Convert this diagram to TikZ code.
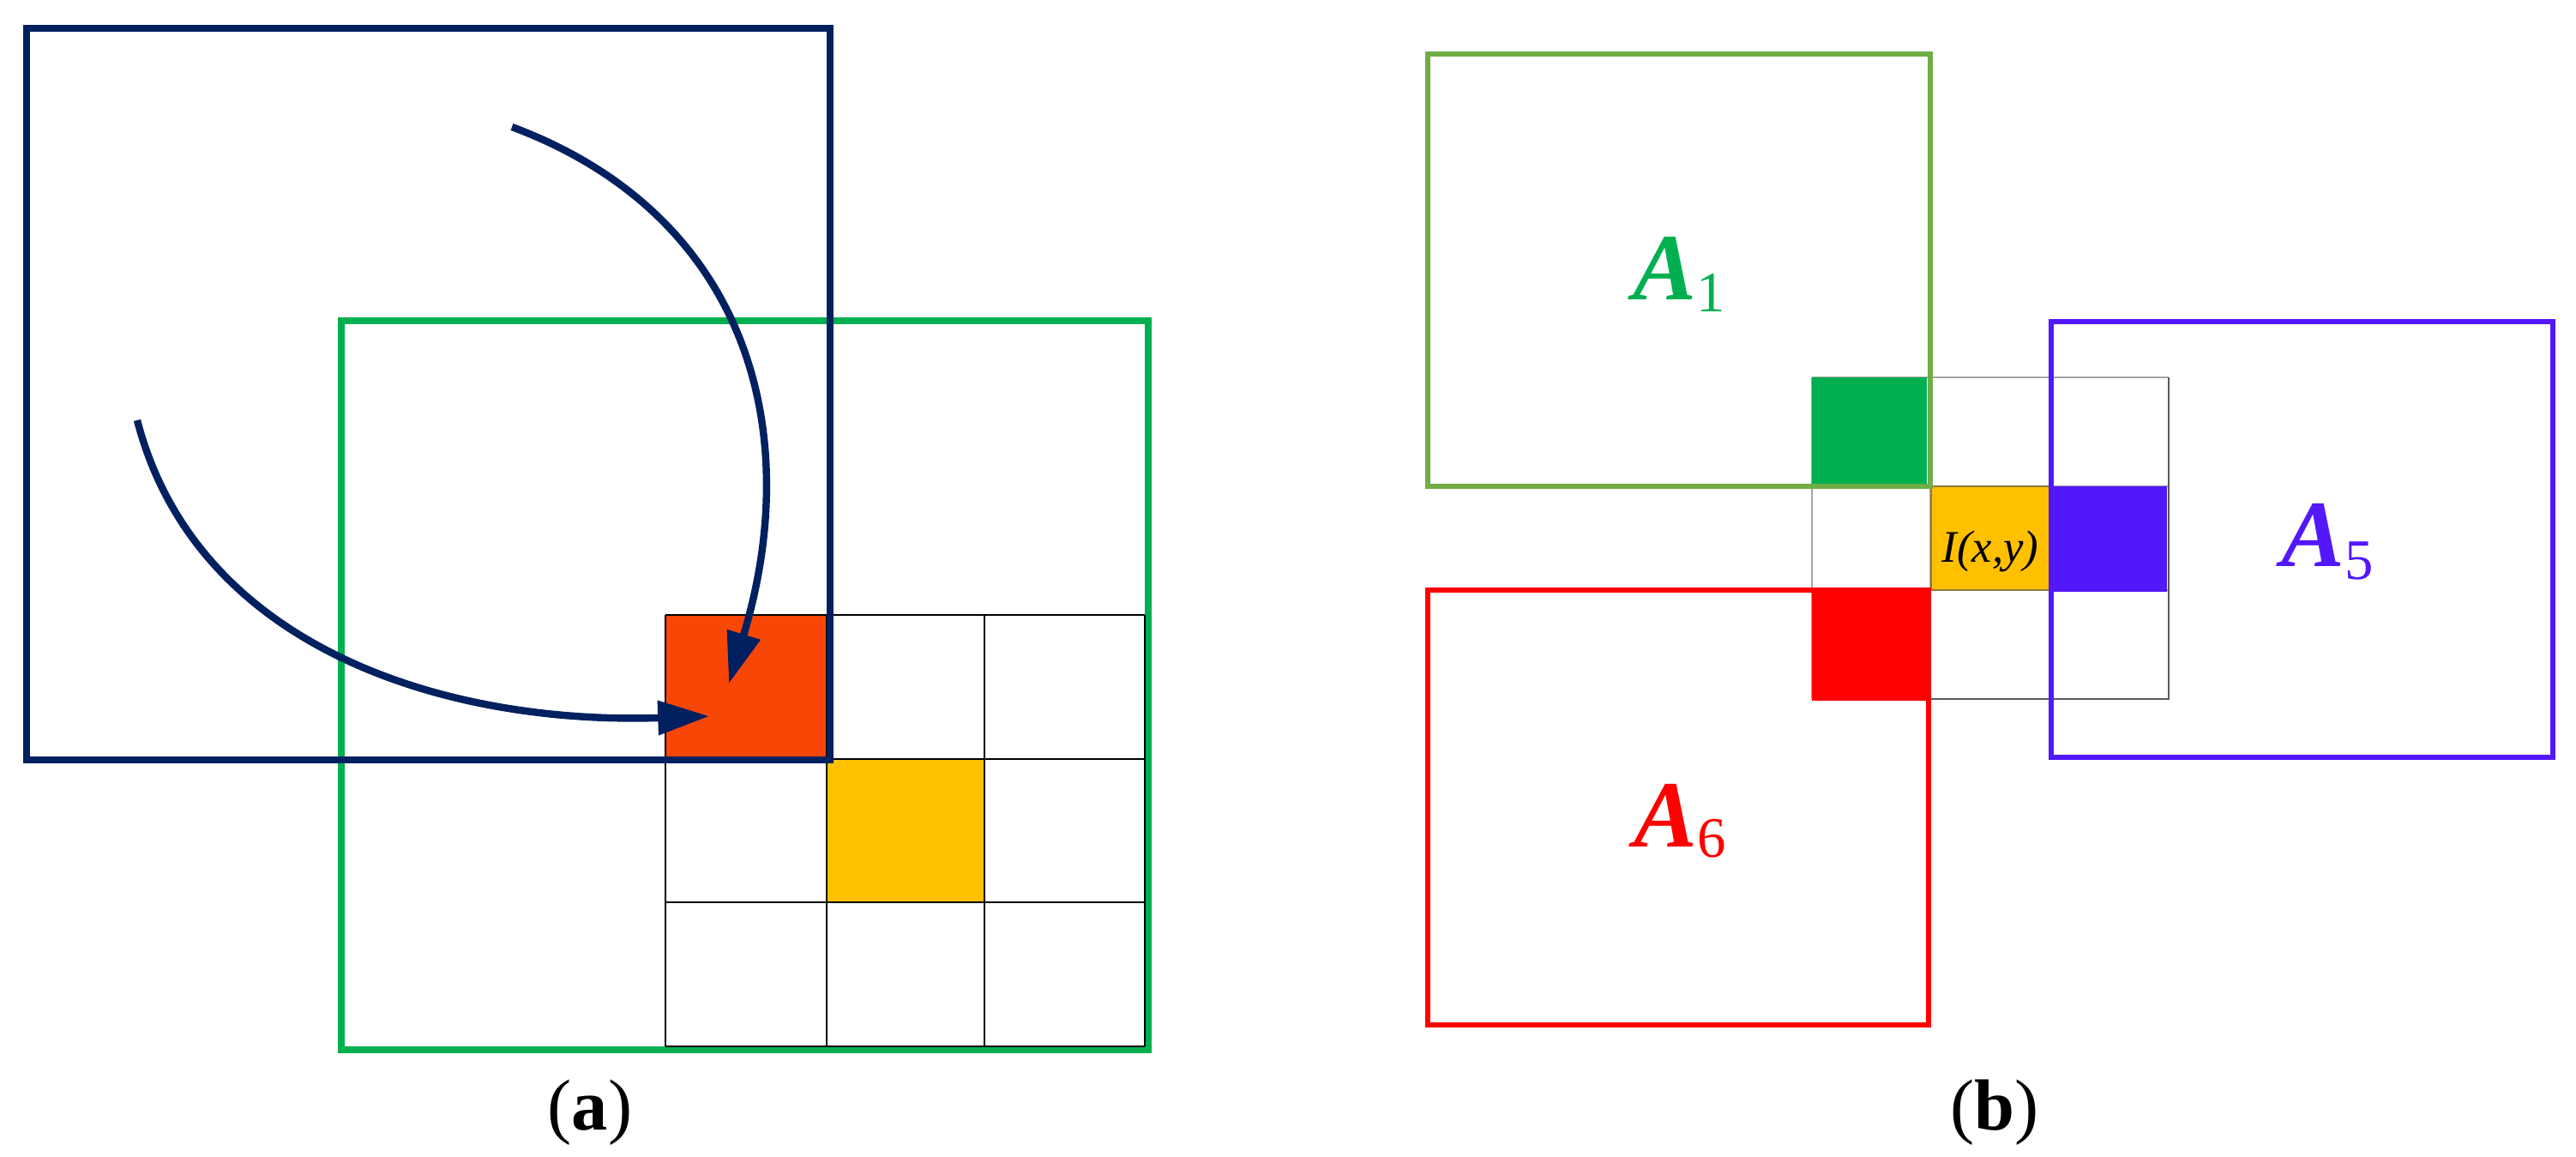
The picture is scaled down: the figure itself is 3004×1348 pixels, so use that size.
\documentclass[tikz,border=0pt]{standalone}
\usepackage{fontspec}
\setmainfont{Liberation Serif}
\usetikzlibrary{arrows.meta}
\definecolor{navy}{HTML}{002060}
\definecolor{gbox}{HTML}{00B050}
\definecolor{orng}{HTML}{F84607}
\definecolor{yel}{HTML}{FFC000}
\definecolor{lgreen}{HTML}{70AD47}
\definecolor{purp}{HTML}{5218FA}
\definecolor{redc}{HTML}{FF0000}
\definecolor{gridgray}{HTML}{A6A6A6}
\definecolor{griddark}{HTML}{595959}
\definecolor{yelborder}{HTML}{8C7A3C}
\begin{document}
\begin{tikzpicture}[x=0.01cm,y=-0.01cm,
  boxline/.style={line width=2.2pt},
  boxlineb/.style={line width=1.8pt},
  cellline/.style={line width=0.7pt,black},
  gridline/.style={line width=0.8pt,gridgray},
  arr/.style={navy,line width=2.4pt,-{Triangle[length=17pt,width=11pt]}},
  lab/.style={inner sep=0pt,anchor=base west,font=\fontsize{31.5}{32}\selectfont\bfseries\itshape},
  caption/.style={inner sep=0pt,anchor=base,font=\fontsize{24}{24}\selectfont},
]
\useasboundingbox (0,0) rectangle (3004,1348);
% ---------- panel (a)
\draw[boxline,gbox] (398,374) rectangle (1339,1224);
\fill[orng] (776,717) rectangle (964,885);
\fill[yel] (964,885) rectangle (1148,1052);
\foreach \x in {776,964,1148,1335} \draw[cellline] (\x,717) -- (\x,1220);
\foreach \y in {717,885,1052,1220} \draw[cellline] (776,\y) -- (1335,\y);
\draw[boxline,navy] (31,33) rectangle (968,886);
\coordinate (s1) at (597,148);
\coordinate (t1) at (850,797);
\coordinate (s2) at (160,490);
\coordinate (t2) at (827,835);
\draw[arr] (s1) .. controls (870,250) and (940,500) .. (t1);
\draw[arr] (s2) .. controls (230,760) and (527,845) .. (t2);
\node[caption] (la) at (688,1317) {(\textbf{a})};
% ---------- panel (b)
\foreach \x in {2113,2251,2392,2529} \draw[gridline] (\x,440) -- (\x,815);
\foreach \y in {440,567,688,815} \draw[gridline] (2113,\y) -- (2529,\y);
\draw[gridline,griddark] (2251,815) -- (2529,815) -- (2529,440);
\fill[gbox] (2113,440) rectangle (2247,565);
\fill[redc] (2113,690) rectangle (2247,817);
\filldraw[fill=yel,draw=yelborder,line width=0.5pt] (2252,567) rectangle (2392,688);
\fill[purp] (2394,567) rectangle (2527,690);
\draw[boxlineb,lgreen] (1665,63) rectangle (2251,567);
\draw[boxlineb,redc] (1665,688) rectangle (2249,1195);
\draw[boxlineb,purp] (2392,375) rectangle (2977,883);
\node[inner sep=0pt,anchor=base,font=\fontsize{15}{15}\selectfont\itshape] (ixy) at (2321,655) {I(x,y)};
\node[lab,text=gbox] (a1) at (1904,349) {A\raisebox{-4pt}{\fontsize{19}{19}\selectfont\mdseries\upshape 1}};
\node[lab,text=purp] (a5) at (2660,660) {A\raisebox{-4.5pt}{\fontsize{19}{19}\selectfont\mdseries\upshape 5}};
\node[lab,text=redc] (a6) at (1905,987) {A\raisebox{-3.5pt}{\fontsize{19}{19}\selectfont\mdseries\upshape 6}};
\node[caption] (lb) at (2326,1317) {(\textbf{b})};
\end{tikzpicture}
\end{document}
